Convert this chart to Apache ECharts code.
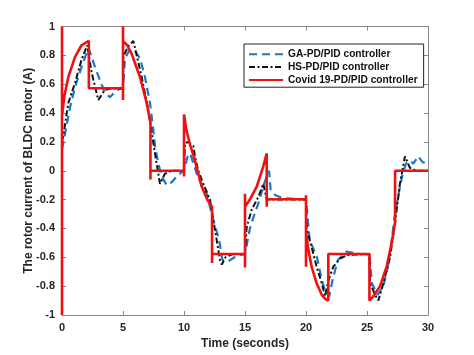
<!DOCTYPE html>
<html>
<head>
<meta charset="utf-8">
<script src="https://cdn.jsdelivr.net/npm/echarts@6/dist/echarts.min.js"></script>
<style>html,body{margin:0;padding:0;background:#fff}#c{width:474px;height:355px}</style>
</head>
<body>
<div id="c"></div>
<script>
var seriesNames = ['GA-PD/PID controller', 'HS-PD/PID controller', 'Covid 19-PD/PID controller'];
var xTicks = [0, 5, 10, 15, 20, 25, 30];
var yTicks = [-1, -0.8, -0.6, -0.4, -0.2, 0, 0.2, 0.4, 0.6, 0.8, 1];

var gaData = [[0,0.15],[0.1,0.19],[0.66,0.44],[1.07,0.58],[1.61,0.72],[2.16,0.85],[2.3,0.82],[2.7,0.72],[3.1,0.63],[3.52,0.54],[3.93,0.51],[4.4,0.55],[4.75,0.57],[5,0.57],[5.16,0.78],[5.5,0.83],[5.9,0.84],[6.39,0.78],[6.8,0.65],[7.21,0.47],[7.49,0.28],[7.62,0.17],[7.9,0.05],[8.17,-0.04],[8.58,-0.1],[8.99,-0.08],[9.4,-0.04],[9.8,-0.01],[10,0],[10.3,0.1],[10.5,0.12],[11.17,-0.05],[11.86,-0.16],[12.33,-0.32],[12.88,-0.48],[13.15,-0.62],[13.6,-0.63],[14.4,-0.585],[15,-0.58],[15.4,-0.4],[15.7,-0.32],[16.2,-0.2],[16.6,-0.08],[16.97,0.0],[17.1,-0.13],[17.5,-0.17],[18.1,-0.19],[20,-0.2],[20.3,-0.48],[20.9,-0.6],[21.3,-0.76],[21.6,-0.84],[21.9,-0.87],[22.2,-0.75],[22.6,-0.62],[23.3,-0.56],[24.4,-0.577],[25.2,-0.58],[25.4,-0.78],[25.86,-0.86],[26.34,-0.8],[26.75,-0.65],[27.0,-0.5],[27.23,-0.34],[27.57,-0.17],[27.9,-0.03],[28.2,0.05],[28.5,0.07],[28.8,0.05],[29.2,0.1],[29.55,0.06],[30,0.05]];

var hsData = [[0,0.2],[0.1,0.24],[0.52,0.47],[1.07,0.61],[1.6,0.77],[2.07,0.87],[2.43,0.68],[2.98,0.49],[3.5,0.56],[4,0.57],[5,0.57],[5.03,0.79],[5.4,0.86],[5.85,0.9],[6.53,0.65],[7.08,0.42],[7.62,0.12],[8.03,-0.09],[8.44,-0.02],[9,0],[10,0],[10.08,0.19],[10.35,0.2],[10.77,0.17],[10.9,0.1],[11.17,0],[11.58,-0.09],[12.13,-0.2],[12.4,-0.34],[12.68,-0.48],[12.95,-0.62],[13.1,-0.65],[13.4,-0.6],[14,-0.577],[15,-0.577],[15.14,-0.39],[15.55,-0.27],[16.1,-0.18],[16.5,-0.09],[16.78,-0.2],[17.2,-0.2],[20,-0.2],[20.05,-0.4],[20.46,-0.53],[20.87,-0.665],[21.29,-0.78],[21.56,-0.87],[21.83,-0.76],[22.24,-0.665],[22.79,-0.61],[23.34,-0.585],[25.2,-0.577],[25.25,-0.78],[25.66,-0.86],[25.93,-0.9],[26.34,-0.78],[26.89,-0.6],[27.3,-0.36],[27.7,-0.09],[28.11,0.1],[28.52,0.02],[29.07,0],[30,0]];

var covidData = [[0,-1],[0,1],[0,0.38],[0.2,0.52],[0.52,0.65],[1.07,0.79],[1.6,0.87],[2.2,0.9],[2.2,0.572],[5,0.572],[5,0.49],[5,1.0],[5,0.9],[5.35,0.87],[5.71,0.81],[6.39,0.65],[6.94,0.47],[7.25,0.33],[7.25,-0.06],[7.25,0],[10,0],[10,-0.04],[10,0.39],[10.2,0.28],[10.5,0.18],[10.8,0.1],[11.45,-0.11],[11.9,-0.2],[12.3,-0.25],[12.3,-0.64],[12.3,-0.577],[15,-0.577],[15,-0.67],[15,-0.16],[15,-0.25],[15.4,-0.2],[15.96,-0.11],[16.5,0.03],[16.78,0.12],[16.78,-0.25],[16.78,-0.198],[20,-0.198],[20,-0.17],[20,-0.665],[20,-0.42],[20.2,-0.55],[20.46,-0.665],[20.87,-0.78],[21.29,-0.86],[21.6,-0.89],[21.83,-0.9],[21.83,-0.577],[25.2,-0.577],[25.2,-0.9],[25.52,-0.87],[26.07,-0.8],[26.61,-0.665],[27.02,-0.5],[27.3,-0.36],[27.3,0],[30,0]];

var FONT = 'Arial, "Liberation Sans", sans-serif';
var axisGray = '#868686';
var chart = echarts.init(document.getElementById('c'), null, {renderer: 'canvas'});
chart.setOption({
  animation: false,
  backgroundColor: '#fff',
  grid: {left: 62, right: 46, top: 26.5, bottom: 40},
  legend: {
    show: true,
    orient: 'vertical', left: 244, top: 44,
    padding: [5, 6, 2, 4], itemGap: 2.5, itemWidth: 34, itemHeight: 13,
    borderColor: '#222', borderWidth: 1, backgroundColor: '#fff',
    itemStyle: {color: 'rgba(0,0,0,0)', borderWidth: 0, opacity: 0},
    textStyle: {fontFamily: FONT, fontWeight: 'bold', fontSize: 10.2, color: '#111'},
    data: seriesNames
  },
  xAxis: [{
    type: 'value', min: 0, max: 30, interval: 5,
    name: 'Time (seconds)', nameLocation: 'middle', nameGap: 22,
    nameTextStyle: {fontFamily: FONT, fontWeight: 'bold', fontSize: 12, color: '#262626'},
    axisLine: {show: true, onZero: false, lineStyle: {color: axisGray, width: 1}},
    axisTick: {show: true, inside: true, length: 4, lineStyle: {color: axisGray}},
    axisLabel: {fontFamily: FONT, fontWeight: 'bold', fontSize: 11, color: '#262626', margin: 7},
    splitLine: {show: false}
  }, {
    type: 'value', position: 'top', min: 0, max: 30, interval: 5,
    axisLine: {show: true, onZero: false, lineStyle: {color: axisGray, width: 1}},
    axisTick: {show: true, inside: true, length: 4, lineStyle: {color: axisGray}},
    axisLabel: {show: false}, splitLine: {show: false}
  }],
  yAxis: [{
    type: 'value', min: -1, max: 1, interval: 0.2,
    name: 'The rotor current of BLDC motor (A)', nameLocation: 'middle', nameGap: 27,
    nameMoveOverlap: false,
    nameTextStyle: {fontFamily: FONT, fontWeight: 'bold', fontSize: 12, color: '#262626'},
    axisLine: {show: true, onZero: false, lineStyle: {color: axisGray, width: 1}},
    axisTick: {show: true, inside: true, length: 4, lineStyle: {color: axisGray}},
    axisLabel: {fontFamily: FONT, fontWeight: 'bold', fontSize: 11, color: '#262626', margin: 7,
      formatter: function(v){ return String(Math.round(v*10)/10); }},
    splitLine: {show: false}
  }, {
    type: 'value', position: 'right', min: -1, max: 1, interval: 0.2,
    axisLine: {show: true, onZero: false, lineStyle: {color: axisGray, width: 1}},
    axisTick: {show: true, inside: true, length: 4, lineStyle: {color: axisGray}},
    axisLabel: {show: false}, splitLine: {show: false}
  }],
  series: [{
    name: seriesNames[0], type: 'line', data: gaData, showSymbol: false, symbol: 'none',
    lineStyle: {color: '#1f77c4', width: 2.2, type: [8, 5]}, itemStyle: {color: '#1f77c4'}, z: 2
  }, {
    name: seriesNames[1], type: 'line', data: hsData, showSymbol: false, symbol: 'none',
    lineStyle: {color: '#111', width: 2, type: [6, 2.5, 2, 2.5]}, itemStyle: {color: '#111'}, z: 3
  }, {
    name: seriesNames[2], type: 'line', data: covidData, showSymbol: false, symbol: 'none',
    lineStyle: {color: '#f01010', width: 2.6}, itemStyle: {color: '#f01010'}, z: 4
  }]
});
</script>
</body>
</html>
